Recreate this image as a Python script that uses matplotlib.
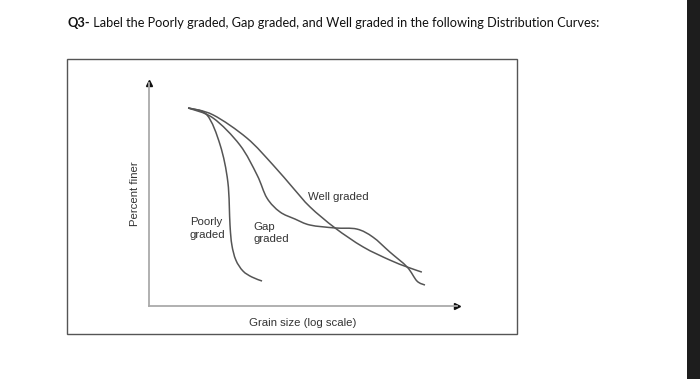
import numpy as np
import matplotlib
matplotlib.use('Agg')
import matplotlib.pyplot as plt
from matplotlib.path import Path
from matplotlib.patches import PathPatch, Rectangle

#---DATA (x = log grain size, 0-100 along axis; y = percent finer)----------------------------------

poorly_x = [12.7, 18.8, 23.1, 25.6, 26.3, 26.9, 28.2, 30.5, 33.4, 36.7]
poorly_y = [88.8, 85.7, 72.2, 55.6, 36.3, 27.4, 20.6, 15.7, 13.0, 11.2]

gap_x = [12.7, 20.8, 29.5, 35.1, 38.3, 42.5, 47.4, 52.3, 60.4, 67.5, 72.7, 78.2, 83.8, 87.0, 89.6]
gap_y = [88.8, 84.3, 72.2, 58.7, 48.4, 42.2, 39.0, 36.3, 35.0, 34.5, 30.9, 24.2, 17.5, 11.2, 9.4]

well_x = [12.7, 20.8, 31.8, 40.3, 46.8, 52.3, 60.4, 69.5, 78.2, 83.8, 88.6]
well_y = [88.8, 85.7, 75.3, 63.2, 52.9, 44.4, 35.0, 26.5, 20.6, 17.5, 15.2]

title_bold = 'Q3-'
title_rest = ' Label the Poorly graded, Gap graded, and Well graded in the following Distribution Curves:'

#---HELPERS------------------------------------------------------------------------------------------

def smooth_path(xs, ys):
  #Catmull-Rom through the points, drawn as cubic bezier segments
  pts = np.column_stack([xs, ys]).astype(float)
  verts = [pts[0]]
  codes = [Path.MOVETO]
  n = len(pts)
  for i in range(n-1):
    p0 = pts[max(i-1, 0)]
    p1 = pts[i]
    p2 = pts[i+1]
    p3 = pts[min(i+2, n-1)]
    c1 = p1 + (p2-p0)/6.0
    c2 = p2 - (p3-p1)/6.0
    verts += [c1, c2, p2]
    codes += [Path.CURVE4]*3
  return Path(verts, codes)

#---FIGURE-------------------------------------------------------------------------------------------

W, H = 700, 379
fig = plt.figure(figsize=(W/100, H/100), dpi=100)
fig.patch.set_facecolor('white')

#Title
t1 = fig.text(67/W, 1-23/H, title_bold, fontsize=9.2, fontweight='bold', family='Lato', va='center', ha='left', color='#111111')
fig.canvas.draw()
bb = t1.get_window_extent()
fig.text(bb.x1/W, 1-23/H, title_rest, fontsize=9.2, family='Lato', va='center', ha='left', color='#111111')

#Outer frame
fig.patches.append(Rectangle((67/W, 1-334/H), 450/W, 275/H, transform=fig.transFigure,
                             fill=False, edgecolor='#555555', linewidth=1.0))

#Dark strip on the right edge
fig.patches.append(Rectangle((687/W, 0), 13/W, 1, transform=fig.transFigure,
                             facecolor='#1d1d1d', edgecolor='none'))

#Axes
ax = fig.add_axes([149/W, 1-306/H, 308/W, 223/H])
ax.set_xlim(0, 100)
ax.set_ylim(0, 100)
ax.patch.set_alpha(0)
for s in ['top', 'right']:
  ax.spines[s].set_visible(False)
for s in ['left', 'bottom']:
  ax.spines[s].set_color('#aaaaaa')
  ax.spines[s].set_linewidth(1.3)
ax.set_xticks([])
ax.set_yticks([])
ax.plot(1, 0, '>', color='#111111', markersize=4, transform=ax.get_yaxis_transform(), clip_on=False)
ax.plot(0, 1, '^', color='#111111', markersize=4, transform=ax.get_xaxis_transform(), clip_on=False)

for xs, ys in [(poorly_x, poorly_y), (gap_x, gap_y), (well_x, well_y)]:
  ax.add_patch(PathPatch(smooth_path(xs, ys), facecolor='none', edgecolor='#555555', linewidth=1.1))

lab = dict(fontsize=8.2, color='#333333', family='Liberation Sans')
ax.text(13.3, 34.8, 'Poorly\ngraded', ha='left', va='center', linespacing=1.3, **lab)
ax.text(33.8, 32.7, 'Gap\ngraded', ha='left', va='center', linespacing=1.3, **lab)
ax.text(51.6, 48.9, 'Well graded', ha='left', va='center', **lab)

fig.text(303/W, 1-323/H, 'Grain size (log scale)', ha='center', va='center', **lab)
fig.text(135/W, 1-194/H, 'Percent finer', ha='center', va='center', rotation=90, **lab)

fig.savefig('out.png', dpi=100)
